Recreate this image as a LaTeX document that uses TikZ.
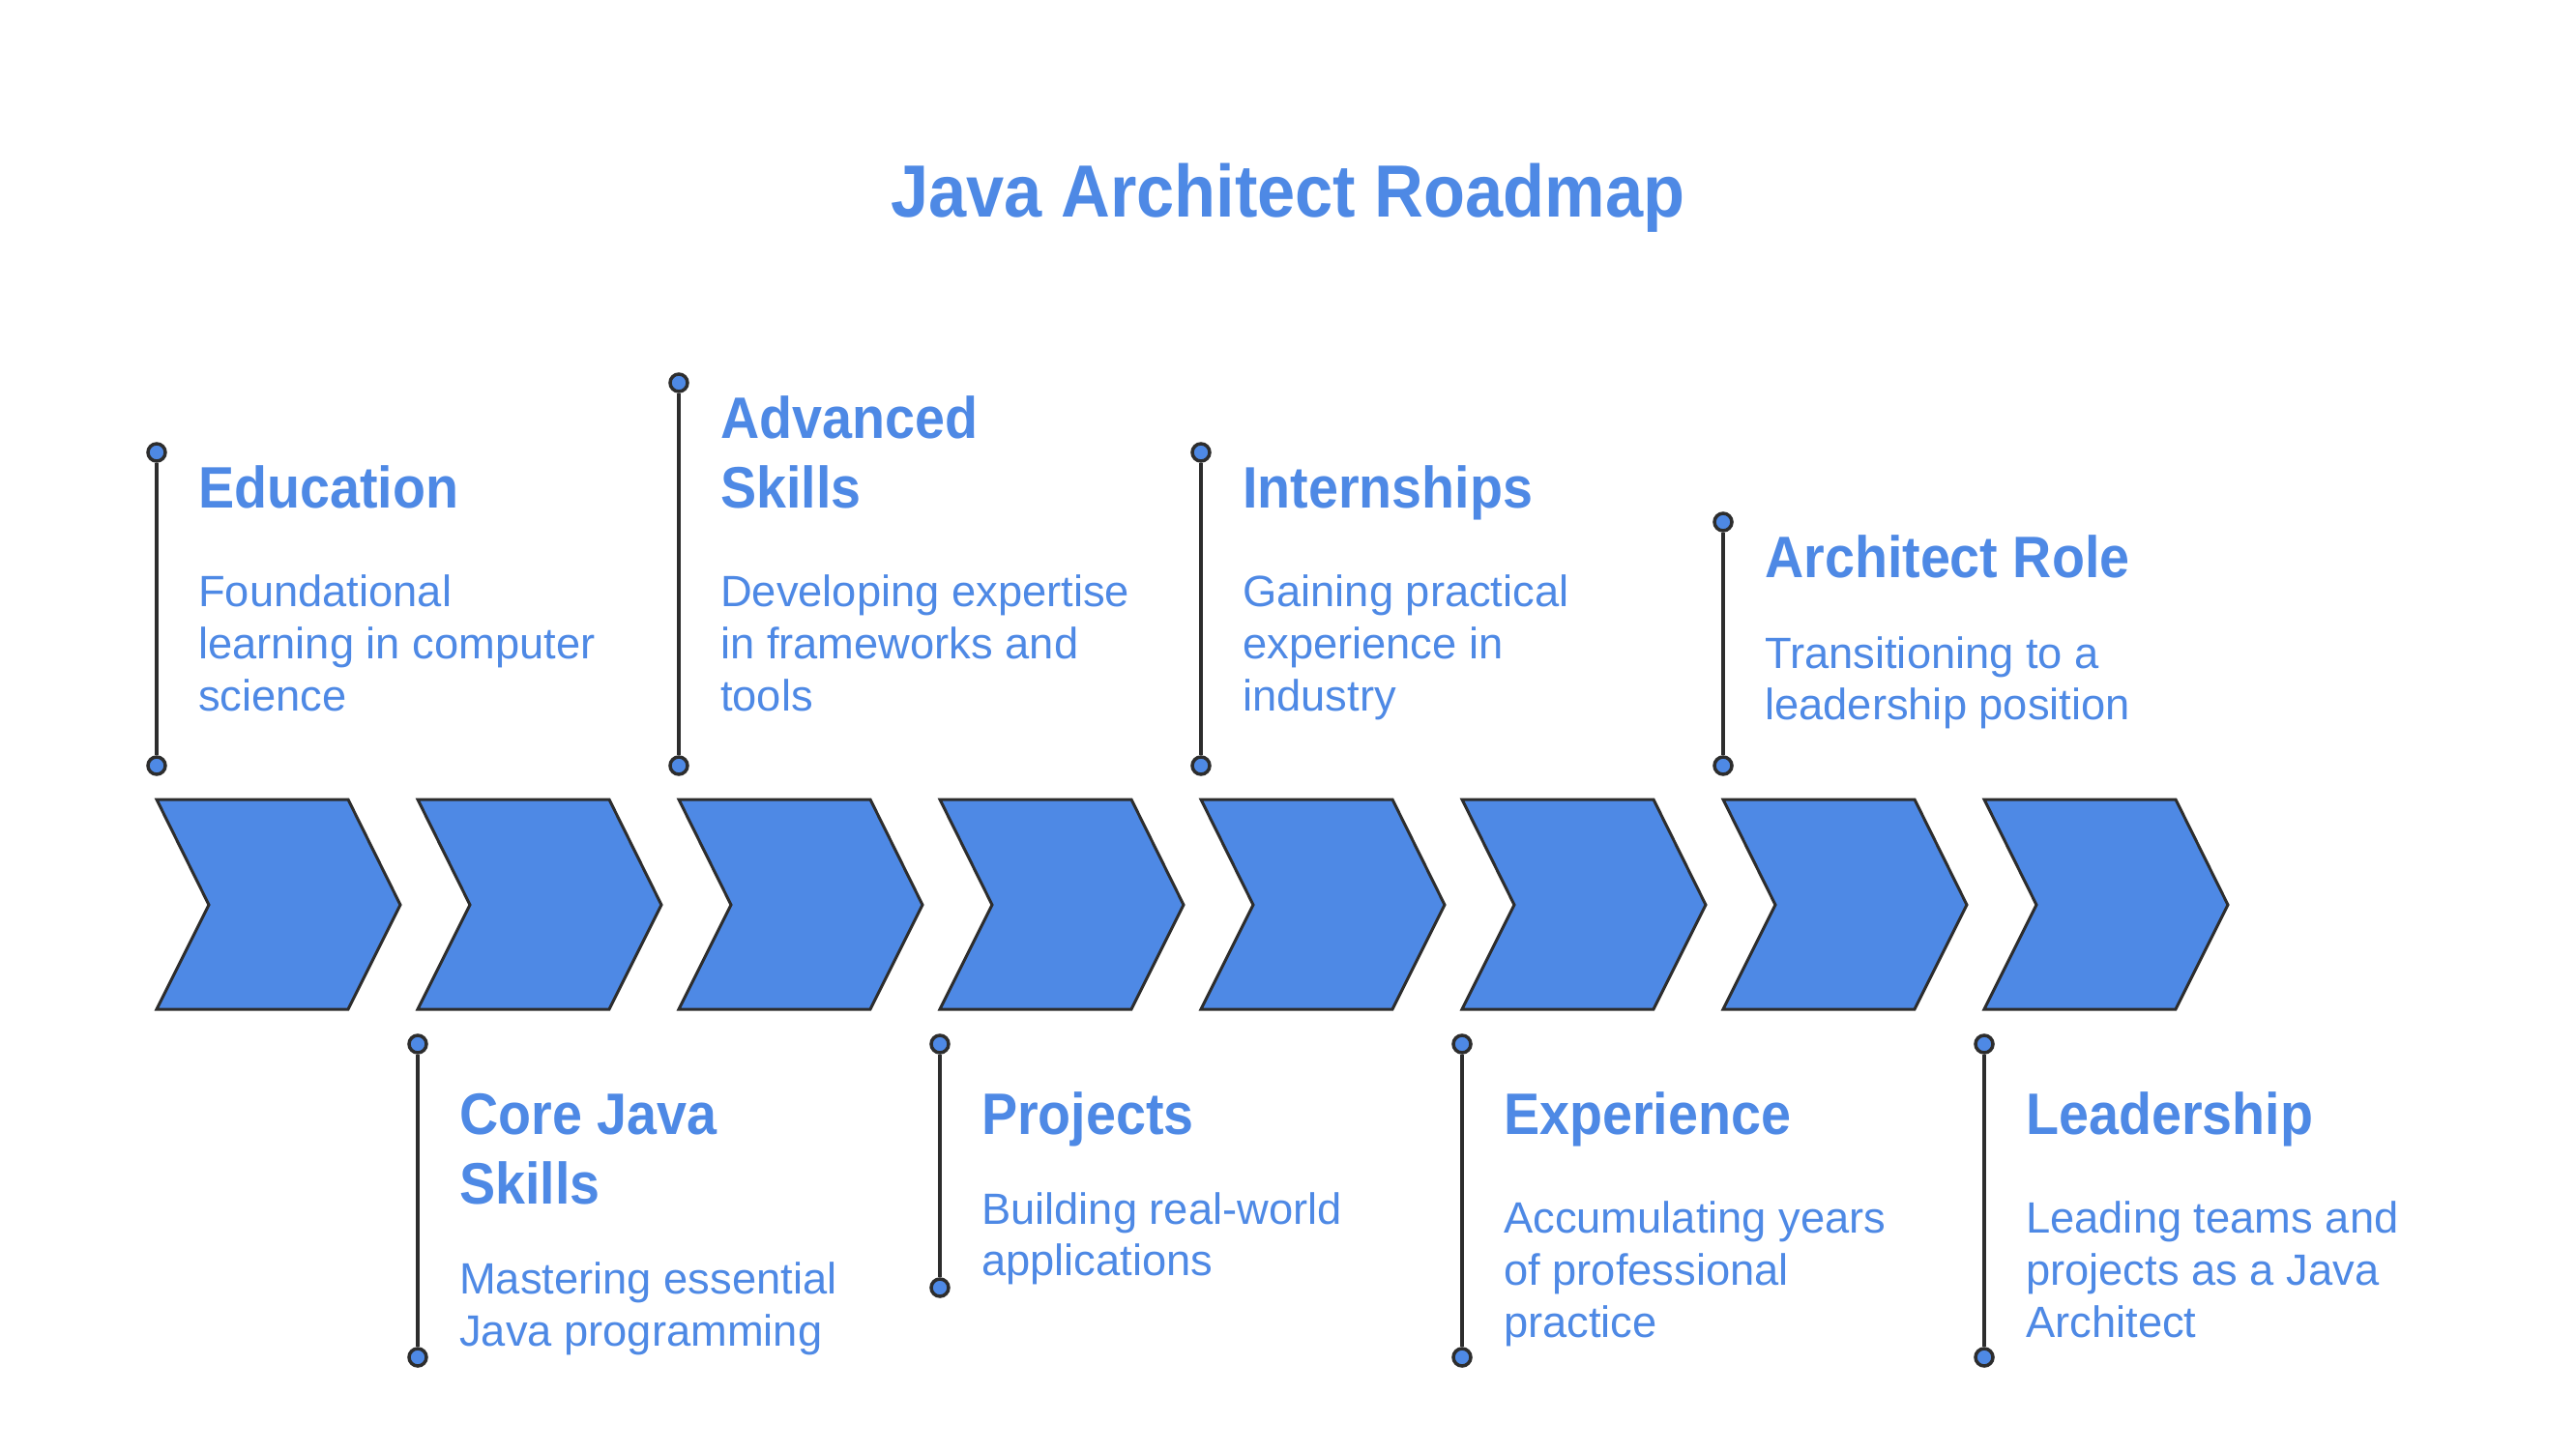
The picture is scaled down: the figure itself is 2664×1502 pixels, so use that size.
\documentclass[tikz,border=0pt]{standalone}
\usepackage{fontspec}
\setmainfont{Liberation Sans}
\newfontfamily\headfam[FakeStretch=0.92]{Liberation Sans Bold}
\definecolor{jblue}{RGB}{78,137,229}
\definecolor{edge}{RGB}{45,45,45}
\tikzset{
  titletext/.style={anchor=base, inner sep=0pt, text=jblue, font=\headfam\fontsize{76.5}{90}\selectfont},
  headtext/.style={anchor=base west, inner sep=0pt, text=jblue, font=\headfam\fontsize{60.5}{72}\selectfont},
  desctext/.style={anchor=base west, inner sep=0pt, text=jblue, font=\fontsize{45.3}{54}\selectfont},
  chev/.style={fill=jblue, draw=edge, line width=3pt, line join=miter},
  stem/.style={draw=edge, line width=3.5pt},
  pin/.style={circle, fill=jblue, draw=edge, line width=3.5pt, minimum size=18pt, inner sep=0pt},
}
\begin{document}
\begin{tikzpicture}[x=1pt, y=-1pt]
\useasboundingbox[fill=white] (0,0) rectangle (2664,1502);

% title
\node[titletext] (title) at (1332,224) {Java Architect Roadmap};

% chevrons
\foreach \i in {0,...,7}{
  \pgfmathsetmacro{\xa}{162+270*\i}
  \draw[chev] (\xa,827) -- (\xa+198,827) -- (\xa+252,936) -- (\xa+198,1044) -- (\xa,1044) -- (\xa+54,936) -- cycle;
}

% ---------- top items ----------
% Education
\node[pin] (p1a) at (162,468) {};
\node[pin] (p1b) at (162,792) {};
\draw[stem] (p1a) -- (p1b);
\node[headtext] (h1) at (205,525) {Education};
\node[desctext] (d1a) at (205,627) {Foundational};
\node[desctext] (d1b) at (205,681) {learning in computer};
\node[desctext] (d1c) at (205,735) {science};

% Advanced Skills
\node[pin] (p3a) at (702,396) {};
\node[pin] (p3b) at (702,792) {};
\draw[stem] (p3a) -- (p3b);
\node[headtext] (h3a) at (745,453) {Advanced};
\node[headtext] (h3b) at (745,525) {Skills};
\node[desctext] (d3a) at (745,627) {Developing expertise};
\node[desctext] (d3b) at (745,681) {in frameworks and};
\node[desctext] (d3c) at (745,735) {tools};

% Internships
\node[pin] (p5a) at (1242,468) {};
\node[pin] (p5b) at (1242,792) {};
\draw[stem] (p5a) -- (p5b);
\node[headtext] (h5) at (1285,525) {Internships};
\node[desctext] (d5a) at (1285,627) {Gaining practical};
\node[desctext] (d5b) at (1285,681) {experience in};
\node[desctext] (d5c) at (1285,735) {industry};

% Architect Role
\node[pin] (p7a) at (1782,540) {};
\node[pin] (p7b) at (1782,792) {};
\draw[stem] (p7a) -- (p7b);
\node[headtext] (h7) at (1825,597) {Architect Role};
\node[desctext] (d7a) at (1825,691) {Transitioning to a};
\node[desctext] (d7b) at (1825,744) {leadership position};

% ---------- bottom items ----------
% Core Java Skills
\node[pin] (p2a) at (432,1080) {};
\node[pin] (p2b) at (432,1404) {};
\draw[stem] (p2a) -- (p2b);
\node[headtext] (h2a) at (475,1173) {Core Java};
\node[headtext] (h2b) at (475,1245) {Skills};
\node[desctext] (d2a) at (475,1338) {Mastering essential};
\node[desctext] (d2b) at (475,1392) {Java programming};

% Projects
\node[pin] (p4a) at (972,1080) {};
\node[pin] (p4b) at (972,1332) {};
\draw[stem] (p4a) -- (p4b);
\node[headtext] (h4) at (1015,1173) {Projects};
\node[desctext] (d4a) at (1015,1266) {Building real-world};
\node[desctext] (d4b) at (1015,1319) {applications};

% Experience
\node[pin] (p6a) at (1512,1080) {};
\node[pin] (p6b) at (1512,1404) {};
\draw[stem] (p6a) -- (p6b);
\node[headtext] (h6) at (1555,1173) {Experience};
\node[desctext] (d6a) at (1555,1275) {Accumulating years};
\node[desctext] (d6b) at (1555,1329) {of professional};
\node[desctext] (d6c) at (1555,1383) {practice};

% Leadership
\node[pin] (p8a) at (2052,1080) {};
\node[pin] (p8b) at (2052,1404) {};
\draw[stem] (p8a) -- (p8b);
\node[headtext] (h8) at (2095,1173) {Leadership};
\node[desctext] (d8a) at (2095,1275) {Leading teams and};
\node[desctext] (d8b) at (2095,1329) {projects as a Java};
\node[desctext] (d8c) at (2095,1383) {Architect};
\end{tikzpicture}
\end{document}
